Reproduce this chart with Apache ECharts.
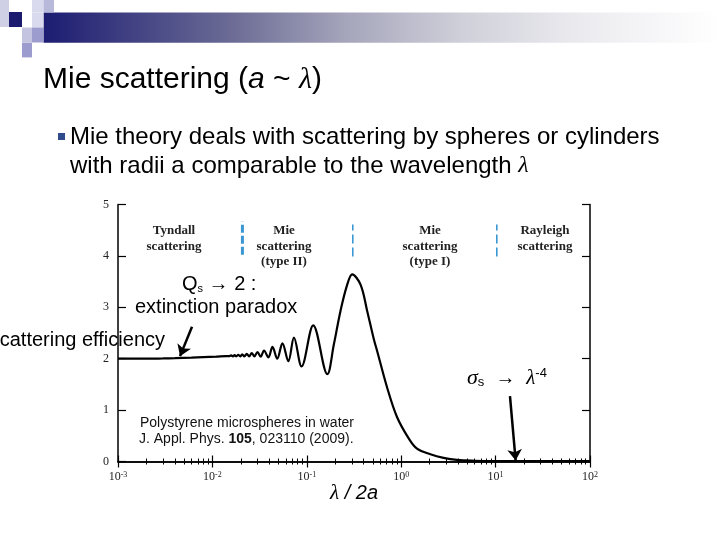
<!DOCTYPE html>
<html><head><meta charset="utf-8">
<script src="https://cdn.jsdelivr.net/npm/echarts@6/dist/echarts.min.js"></script>
<style>html,body{margin:0;padding:0;background:#fff}#c{width:720px;height:540px}</style>
</head><body><div id="c"></div>
<script>
// ---- data ----
const sizeRatio = [0.001, 0.0015, 0.002, 0.003, 0.004, 0.006, 0.008, 0.011, 0.014, 0.0150,
  0.0158, 0.0165, 0.0172, 0.0179, 0.0188, 0.0197, 0.0207, 0.0218, 0.0231, 0.0245,
  0.0261, 0.0279, 0.0300, 0.0325, 0.0352, 0.0392, 0.0433, 0.0486, 0.0552, 0.0637,
  0.0731, 0.0880, 0.117, 0.165, 0.1936, 0.2275, 0.268, 0.3027, 0.371, 0.436,
  0.513, 0.556, 0.709, 0.905, 1.2, 1.47, 2.04, 2.81, 3.9, 6, 10, 30, 100];
const efficiency = [2.00, 2.00, 2.00, 2.005, 2.01, 2.02, 2.03, 2.04, 2.05, 2.05,
  2.065, 2.045, 2.07, 2.045, 2.075, 2.045, 2.085, 2.045, 2.095, 2.045,
  2.11, 2.045, 2.13, 2.04, 2.16, 2.025, 2.23, 2.00, 2.30, 1.95,
  2.41, 1.85, 2.65, 1.70, 2.28, 2.93, 3.44, 3.64, 3.44, 2.93,
  2.38, 2.15, 1.44, 0.86, 0.45, 0.25, 0.14, 0.07, 0.03, 0.015, 0.01, 0.01, 0.01];
const xTickExponents = [-3, -2, -1, 0, 1, 2];
const yTickValues = [0, 1, 2, 3, 4, 5];
const dividerX = [0.0208, 0.307, 10.3];
const dividerBottom = [4.02, 3.99, 3.99];
const dividerTop = [4.67, 4.61, 4.61];
const arrowExtinction = [[0.00608, 2.62], [0.00454, 2.05]];
const arrowRayleigh = [[14.2, 1.27], [16.3, 0.02]];
const regionLabels = [
  ['Tyndall', 'scattering'],
  ['Mie', 'scattering', '(type II)'],
  ['Mie', 'scattering', '(type I)'],
  ['Rayleigh', 'scattering']
];
const regionLabelX = [174, 284, 430, 545];

// ---- chart ----
const chart = echarts.init(document.getElementById('c'));
const SERIF = '"Liberation Serif", "Times New Roman", serif';
const SANS = '"Liberation Sans", Arial, sans-serif';

const curve = sizeRatio.map((u, i) => [u, efficiency[i]]);
const dividerWidths = [3, 1.6, 1.6];
const dividerDash = [[8, 3], [9, 4], [9, 4]];

const dividerSeries = dividerX.map((x, i) => ({
  type: 'line', symbol: 'none', silent: true, animation: false,
  data: [[x, dividerBottom[i]], [x, dividerTop[i]]],
  lineStyle: { color: '#3a97d4', width: dividerWidths[i], type: dividerDash[i] },
  z: 3
}));

const regionGraphics = [];
regionLabels.forEach((lines, i) => {
  lines.forEach((t, j) => {
    regionGraphics.push({
      type: 'text', x: regionLabelX[i], y: 231 + j * 15.3, silent: true,
      style: { text: t, font: 'bold 13px ' + SERIF, fill: '#222', align: 'center', verticalAlign: 'middle' }
    });
  });
});

const grad = new echarts.graphic.LinearGradient(0, 0, 1, 0, [
  { offset: 0, color: '#1c1c72' },
  { offset: 0.28, color: '#6c6c96' },
  { offset: 0.45, color: '#a6a6bc' },
  { offset: 0.62, color: '#d0d0da' },
  { offset: 0.8, color: '#ececf0' },
  { offset: 1, color: '#ffffff' }
]);

const squares = [
  [0, 0, 9, 27, '#cfcfe6'],
  [9, 12, 13, 15, '#1a1a6e'],
  [32, 0, 11.5, 12.4, '#dadaee'],
  [43.5, 0, 10.5, 12.4, '#b8b8da'],
  [32, 12.4, 11.5, 15, '#dadaee'],
  [22, 27.5, 10, 15, '#c4c4e0'],
  [32, 27.5, 11.5, 15, '#9c9cce'],
  [22, 42.7, 10, 14.7, '#9c9cce']
];

const option = {
  animation: false,
  backgroundColor: '#fff',
  grid: { left: 118, right: 130, top: 204.5, bottom: 78.5, containLabel: false },
  xAxis: [{
    type: 'log', logBase: 10, min: 0.001, max: 100, position: 'bottom',
    axisLine: { show: true, lineStyle: { color: '#000', width: 1.5 } },
    axisTick: { show: true, inside: true, length: 6, lineStyle: { color: '#000', width: 1.2 } },
    minorTick: { show: true, splitNumber: 9, length: 3, lineStyle: { color: '#000', width: 1 } },
    splitLine: { show: false },
    axisLabel: {
      margin: 9,
      formatter: v => '{b|10}{e|' + Math.round(Math.log10(v)) + '}',
      rich: {
        b: { fontFamily: SERIF, fontSize: 12, color: '#222' },
        e: { fontFamily: SERIF, fontSize: 8, color: '#222', verticalAlign: 'top', lineHeight: 12 }
      }
    }
  }, {
    type: 'log', logBase: 10, min: 0.001, max: 100, position: 'top',
    axisLine: { show: true, lineStyle: { color: '#000', width: 1.5 } },
    axisTick: { show: true, inside: true, length: 6, lineStyle: { color: '#000', width: 1.2 } },
    minorTick: { show: true, splitNumber: 9, length: 3, lineStyle: { color: '#000', width: 1 } },
    axisLabel: { show: false }, splitLine: { show: false }
  }],
  yAxis: [{
    type: 'value', min: 0, max: 5, interval: 1, position: 'left',
    axisLine: { show: true, lineStyle: { color: '#000', width: 1.5 } },
    axisTick: { show: true, inside: true, length: 8, lineStyle: { color: '#000', width: 1.2 } },
    splitLine: { show: false },
    axisLabel: { margin: 9, fontFamily: SERIF, fontSize: 12, color: '#222' }
  }, {
    type: 'value', min: 0, max: 5, interval: 1, position: 'right',
    axisLine: { show: true, lineStyle: { color: '#000', width: 1.5 } },
    axisTick: { show: true, inside: true, length: 8, lineStyle: { color: '#000', width: 1.2 } },
    splitLine: { show: false }, axisLabel: { show: false }
  }],
  series: [{
    type: 'line', name: 'Qs', data: curve, symbol: 'none', smooth: 0.35,
    lineStyle: { color: '#000', width: 2.2 }, z: 4,
    markLine: {
      silent: true, symbol: ['none', 'arrow'], symbolSize: 11,
      label: { show: false },
      lineStyle: { color: '#000', width: 2.5, type: 'solid' },
      data: [
        [{ coord: arrowExtinction[0] }, { coord: arrowExtinction[1] }],
        [{ coord: arrowRayleigh[0] }, { coord: arrowRayleigh[1] }]
      ]
    }
  }].concat(dividerSeries),
  graphic: [
    { type: 'rect', shape: { x: 43.5, y: 12.4, width: 676.5, height: 30.3 }, style: { fill: grad }, silent: true }
  ].concat(squares.map(s => ({ type: 'rect', shape: { x: s[0], y: s[1], width: s[2], height: s[3] }, style: { fill: s[4] }, silent: true })))
  .concat([
    { type: 'text', x: 43, y: 80, style: {
      text: '{n|Mie scattering (}{i|a}{n| ~ }{l|λ}{n|)}', verticalAlign: 'middle',
      rich: {
        n: { font: '30px ' + SANS, fill: '#000' },
        i: { font: 'italic 30px ' + SANS, fill: '#000' },
        l: { font: 'italic 30px ' + SERIF, fill: '#000' }
      } } },
    { type: 'rect', shape: { x: 58, y: 133, width: 7, height: 7 }, style: { fill: '#2f4b8c' } },
    { type: 'text', x: 70, y: 137, style: { text: 'Mie theory deals with scattering by spheres or cylinders', font: '24px ' + SANS, fill: '#000', verticalAlign: 'middle' } },
    { type: 'text', x: 70, y: 166, style: {
      text: '{n|with radii a comparable to the wavelength }{l|λ}', verticalAlign: 'middle',
      rich: { n: { font: '24px ' + SANS, fill: '#000' }, l: { font: 'italic 24px ' + SERIF, fill: '#000' } } } },
    { type: 'text', x: 182, y: 284, style: {
      text: '{n|Q}{s|s}{n| → 2 :}', verticalAlign: 'middle',
      rich: { n: { font: '20px ' + SANS, fill: '#000' }, s: { font: '11px ' + SANS, fill: '#000', verticalAlign: 'bottom' } } } },
    { type: 'text', x: 135, y: 307, style: { text: 'extinction paradox', font: '20px ' + SANS, fill: '#000', verticalAlign: 'middle' } },
    { type: 'text', x: 165, y: 340, style: { text: 'Scattering efficiency', font: '20px ' + SANS, fill: '#000', align: 'right', verticalAlign: 'middle' } },
    { type: 'text', x: 467, y: 378, style: {
      text: '{g|σ}{s|s}{n|  → }{l| λ}{e|-4}', verticalAlign: 'middle',
      rich: {
        g: { font: 'italic 22px ' + SERIF, fill: '#000' },
        s: { font: '13px ' + SANS, fill: '#000', verticalAlign: 'bottom' },
        n: { font: '20px ' + SANS, fill: '#000' },
        l: { font: 'italic 21px ' + SERIF, fill: '#000' },
        e: { font: '13px ' + SANS, fill: '#000', verticalAlign: 'top' }
      } } },
    { type: 'text', x: 140, y: 423, style: { text: 'Polystyrene microspheres in water', font: '14px ' + SANS, fill: '#111', verticalAlign: 'middle' } },
    { type: 'text', x: 139, y: 439, style: {
      text: '{n|J. Appl. Phys. }{b|105}{n|, 023110 (2009).}', verticalAlign: 'middle',
      rich: { n: { font: '14px ' + SANS, fill: '#111' }, b: { font: 'bold 14px ' + SANS, fill: '#111' } } } },
    { type: 'text', x: 354, y: 493, style: {
      text: '{l|λ}{n| / 2a}', align: 'center', verticalAlign: 'middle',
      rich: { l: { font: 'italic 21px ' + SERIF, fill: '#000' }, n: { font: 'italic 20px ' + SANS, fill: '#000' } } } }
  ]).concat(regionGraphics)
};
chart.setOption(option);
</script>
</body></html>
